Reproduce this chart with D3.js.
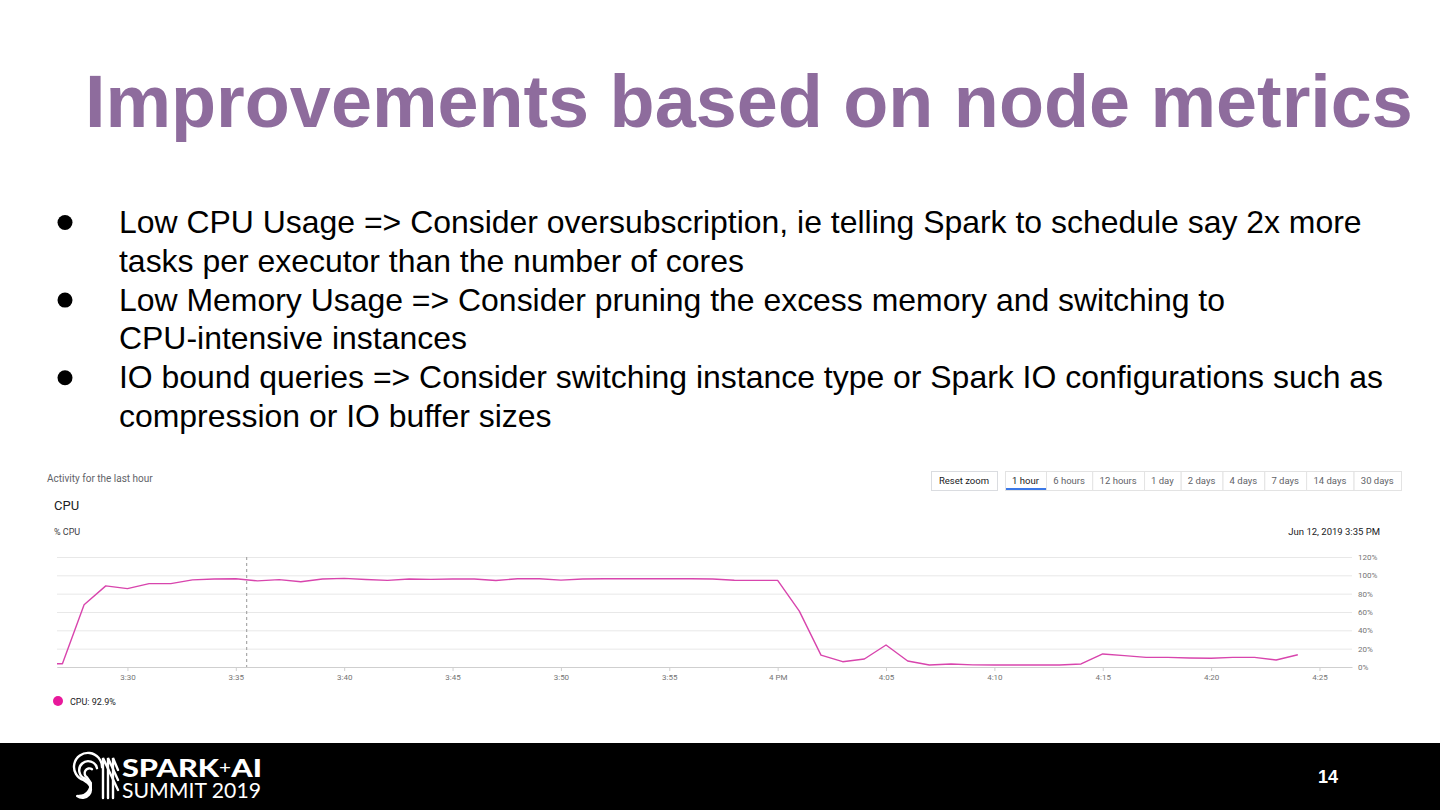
<!DOCTYPE html>
<html>
<head>
<meta charset="utf-8">
<script src="https://cdn.jsdelivr.net/npm/d3@7"></script>
<style>
  body { margin: 0; background: #fff; }
  svg { display: block; }
</style>
</head>
<body>
<div id="slide"></div>
<script>
// Slide text
var titleText = "Improvements based on node metrics";
var bullets = [
  ["Low CPU Usage => Consider oversubscription, ie telling Spark to schedule say 2x more",
   "tasks per executor than the number of cores"],
  ["Low Memory Usage => Consider pruning the excess memory and switching to",
   "CPU-intensive instances"],
  ["IO bound queries => Consider switching instance type or Spark IO configurations such as",
   "compression or IO buffer sizes"]
];

// CPU series, one sample per minute (Jun 12, 2019)
var times = [
  "15:26", "15:27", "15:28", "15:29", "15:30", "15:31", "15:32", "15:33", "15:34", "15:35",
  "15:36", "15:37", "15:38", "15:39", "15:40", "15:41", "15:42", "15:43", "15:44", "15:45",
  "15:46", "15:47", "15:48", "15:49", "15:50", "15:51", "15:52", "15:53", "15:54", "15:55",
  "15:56", "15:57", "15:58", "15:59", "16:00", "16:01", "16:02", "16:03", "16:04", "16:05",
  "16:06", "16:07", "16:08", "16:09", "16:10", "16:11", "16:12", "16:13", "16:14", "16:15",
  "16:16", "16:17", "16:18", "16:19", "16:20", "16:21", "16:22", "16:23", "16:24"
];
var cpu = [
  4, 3.5, 68, 88.5, 85.5, 91, 91, 95, 96, 96.3,
  94, 95.3, 93, 96, 96.7, 95.5, 94.5, 96, 95.6, 96,
  96, 94.3, 96.3, 96.3, 94.8, 96, 96.2, 96.2, 96.2, 96.2,
  96.2, 96, 94.6, 94.5, 94.5, 61, 13, 5.8, 8.7, 24,
  6.5, 2.2, 3.2, 2.3, 2.2, 2.2, 2.2, 2.2, 3.3, 14.2,
  12.4, 10.5, 10.5, 9.8, 9.5, 10.5, 10.5, 7.6, 13.4
];

// Axis ticks
var xDomain = ["15:26:45", "16:26:30"];
var xTickTimes = ["15:30", "15:35", "15:40", "15:45", "15:50", "15:55", "16:00", "16:05", "16:10", "16:15", "16:20", "16:25"];
var xTickLabels = ["3:30", "3:35", "3:40", "3:45", "3:50", "3:55", "4 PM", "4:05", "4:10", "4:15", "4:20", "4:25"];
var yTicks = [0, 20, 40, 60, 80, 100, 120];
var yTickLabels = ["0%", "20%", "40%", "60%", "80%", "100%", "120%"];

// Console chrome
var hoverTime = "15:35:30";
var hoverLabel = "Jun 12, 2019 3:35 PM";
var legendLabel = "CPU: 92.9%";
var rangeButtons = ["1 hour", "6 hours", "12 hours", "1 day", "2 days", "4 days", "7 days", "14 days", "30 days"];
var pageNumber = "14";

var width = 1440;
var height = 810;

var sans = "'Liberation Sans', Arial, sans-serif";
var ui = "Roboto, 'Noto Sans', sans-serif";

var svg = d3
  .select("#slide")
  .append("svg")
  .attr("width", width)
  .attr("height", height);

svg.append("rect").attr("width", width).attr("height", height).attr("fill", "#fff");

// ---------- Title ----------
var title = svg
  .append("text")
  .attr("x", 85)
  .attr("y", 127)
  .attr("font-family", sans)
  .attr("font-weight", "bold")
  .attr("font-size", 75)
  .attr("fill", "#8e6c9d")
  .text(titleText);

// fit the title to the width it has on the slide
var tLen = title.node().getComputedTextLength();
title.attr("font-size", 75 * 1328 / tLen);

// ---------- Bullets ----------
var bulletG = svg.append("g");
var probe = bulletG
  .append("text")
  .attr("font-family", sans)
  .attr("font-size", 30)
  .text(bullets[0][0]);
var bulletSize = 30 * 1243 / probe.node().getComputedTextLength();
probe.remove();

var lineNo = 0;
bullets.forEach(function(b) {
  var base = 233 + lineNo * 38.8;
  bulletG
    .append("circle")
    .attr("cx", 65)
    .attr("cy", base - 10.5)
    .attr("r", 7.5)
    .attr("fill", "#000");
  b.forEach(function(line) {
    bulletG
      .append("text")
      .attr("x", 119)
      .attr("y", 233 + lineNo * 38.8)
      .attr("font-family", sans)
      .attr("font-size", bulletSize)
      .attr("fill", "#000")
      .text(line);
    lineNo++;
  });
});

// ---------- Chart header ----------
svg.append("text")
  .attr("x", 47).attr("y", 482)
  .attr("font-family", ui).attr("font-size", 10)
  .attr("fill", "#5f6368")
  .text("Activity for the last hour");

svg.append("text")
  .attr("x", 54).attr("y", 510)
  .attr("font-family", ui).attr("font-size", 13)
  .attr("fill", "#202124")
  .text("CPU");

svg.append("text")
  .attr("x", 54).attr("y", 535)
  .attr("font-family", ui).attr("font-size", 9)
  .attr("fill", "#3c4043")
  .text("% CPU");

svg.append("text")
  .attr("x", 1380).attr("y", 535)
  .attr("text-anchor", "end")
  .attr("font-family", ui).attr("font-size", 9.5)
  .attr("fill", "#202124")
  .text(hoverLabel);

// Buttons
var btnY = 471;
var btnH = 20;
var resetG = svg.append("g");
resetG.append("rect")
  .attr("x", 931.5).attr("y", btnY + 0.5)
  .attr("width", 66).attr("height", btnH - 1)
  .attr("fill", "#fff").attr("stroke", "#dadce0");
resetG.append("text")
  .attr("x", 964).attr("y", btnY + 13)
  .attr("text-anchor", "middle")
  .attr("font-family", ui).attr("font-size", 9.5)
  .attr("fill", "#202124")
  .text("Reset zoom");

var btnG = svg.append("g");
var btnText = btnG.selectAll("text.btn")
  .data(rangeButtons)
  .enter()
  .append("text")
  .attr("class", "btn")
  .attr("font-family", ui).attr("font-size", 9.5)
  .attr("text-anchor", "middle")
  .text(function(d) { return d; });

var widths = [];
btnText.each(function() { widths.push(this.getComputedTextLength() + 12); });
var wScale = 396 / d3.sum(widths);
var bx = 1005;
btnText.each(function(d, i) {
  var w = widths[i] * wScale;
  btnG.insert("rect", "text")
    .attr("x", bx + 0.5).attr("y", btnY + 0.5)
    .attr("width", w).attr("height", btnH - 1)
    .attr("fill", "#fff").attr("stroke", "#e3e3e3");
  d3.select(this)
    .attr("x", bx + w / 2)
    .attr("y", btnY + 13)
    .attr("fill", i === 0 ? "#202124" : "#5f6368");
  if (i === 0) {
    btnG.append("rect")
      .attr("x", bx + 1).attr("y", btnY + btnH - 3)
      .attr("width", w - 1).attr("height", 2)
      .attr("fill", "#3b78e7");
  }
  bx += w;
});

// ---------- CPU chart ----------
var parseT = d3.timeParse("%Y-%m-%d %H:%M:%S");
function t(s) {
  return parseT("2019-06-12 " + (s.length === 5 ? s + ":00" : s));
}

var plotLeft = 57;
var plotRight = 1352;
var plotTop = 557;
var plotBottom = 667;

var xScale = d3.scaleTime()
  .domain(xDomain.map(t))
  .range([plotLeft, plotRight]);

var yScale = d3.scaleLinear()
  .domain([0, 120])
  .range([plotBottom, plotTop]);

// gridlines
var grid = svg.append("g")
  .attr("transform", "translate(" + plotLeft + ",0)")
  .call(d3.axisLeft(yScale).tickValues(yTicks).tickSize(-(plotRight - plotLeft)).tickFormat(""));
grid.select(".domain").remove();
grid.selectAll("line").attr("stroke", "#e8e8e8");

// x axis
var xAxis = d3.axisBottom(xScale)
  .tickValues(xTickTimes.map(t))
  .tickFormat(function(d, i) { return xTickLabels[i]; })
  .tickSize(4)
  .tickSizeOuter(0)
  .tickPadding(3);

var xg = svg.append("g")
  .attr("transform", "translate(0," + plotBottom + ")")
  .call(xAxis);
xg.select(".domain").attr("stroke", "#cfcfcf");
xg.selectAll("line").attr("stroke", "#cfcfcf");
xg.selectAll("text")
  .attr("font-family", ui).attr("font-size", 8)
  .attr("fill", "#757575");

// y axis labels on the right
var yAxis = d3.axisRight(yScale)
  .tickValues(yTicks)
  .tickFormat(function(d, i) { return yTickLabels[i]; })
  .tickSize(0)
  .tickPadding(6);

var yg = svg.append("g")
  .attr("transform", "translate(" + plotRight + ",0)")
  .call(yAxis);
yg.select(".domain").remove();
yg.selectAll("text")
  .attr("font-family", ui).attr("font-size", 8)
  .attr("fill", "#757575");

// hover marker
svg.append("line")
  .attr("x1", xScale(t(hoverTime))).attr("x2", xScale(t(hoverTime)))
  .attr("y1", plotTop).attr("y2", plotBottom)
  .attr("stroke", "#a8a8a8")
  .attr("stroke-width", 1.2)
  .attr("stroke-dasharray", "3,3");

svg.append("clipPath")
  .attr("id", "plotClip")
  .append("rect")
  .attr("x", plotLeft).attr("y", plotTop - 10)
  .attr("width", plotRight - plotLeft).attr("height", plotBottom - plotTop + 12);

var series = times.map(function(s, i) { return { time: t(s), value: cpu[i] }; });

var line = d3.line()
  .x(function(d) { return xScale(d.time); })
  .y(function(d) { return yScale(d.value); });

svg.append("path")
  .datum(series)
  .attr("clip-path", "url(#plotClip)")
  .attr("fill", "none")
  .attr("stroke", "#d845ad")
  .attr("stroke-width", 1.4)
  .attr("stroke-linejoin", "round")
  .attr("d", line);

// legend
svg.append("circle")
  .attr("cx", 58).attr("cy", 701).attr("r", 5)
  .attr("fill", "#e8199b");
svg.append("text")
  .attr("x", 70).attr("y", 704.5)
  .attr("font-family", ui).attr("font-size", 9)
  .attr("fill", "#202124")
  .text(legendLabel);

// ---------- Footer ----------
svg.append("rect")
  .attr("x", 0).attr("y", 743)
  .attr("width", width).attr("height", height - 743)
  .attr("fill", "#000");

var logo = svg.append("g")
  .attr("fill", "none")
  .attr("stroke", "#fff")
  .attr("stroke-width", 2.4)
  .attr("stroke-linecap", "round");

// stylised "S" made of nested arcs
[4, 9, 14].forEach(function(r) {
  logo.append("path")
    .attr("d", "M" + (88 + r) + "," + (770 - r * 0.2) +
      " A" + r + "," + r + " 0 1 0 " + (88 - r * 0.3) + "," + (776 + r * 0.3) +
      " L" + (92 - r * 0.3) + "," + 783 +
      " A" + ((14 - r) * 0.6 + 6) + "," + ((14 - r) * 0.6 + 6) + " 0 0 1 " + (80 - r * 0.2) + "," + 796);
});
// stylised "A"
[0, 5, 10].forEach(function(o) {
  logo.append("path")
    .attr("d", "M" + (103 + o) + ",798 L" + (103 + o) + ",758 L" + (118) + "," + (790 - o * 2));
});

var spark = svg.append("text")
  .attr("x", 122).attr("y", 777)
  .attr("font-family", "Lato, 'Open Sans', sans-serif")
  .attr("font-weight", "900")
  .attr("font-size", 25)
  .attr("fill", "#fff")
  .attr("textLength", 140)
  .attr("lengthAdjust", "spacingAndGlyphs");
spark.append("tspan").text("SPARK");
spark.append("tspan").attr("font-size", 17).attr("font-weight", "400").attr("dy", -3).text("+");
spark.append("tspan").attr("dy", 3).text("AI");

svg.append("text")
  .attr("x", 122).attr("y", 798)
  .attr("font-family", "Lato, 'Open Sans', sans-serif")
  .attr("font-size", 21)
  .attr("fill", "#fff")
  .attr("textLength", 139)
  .attr("lengthAdjust", "spacingAndGlyphs")
  .text("SUMMIT 2019");

svg.append("text")
  .attr("x", 1328).attr("y", 782.5)
  .attr("text-anchor", "middle")
  .attr("font-family", sans)
  .attr("font-weight", "bold")
  .attr("font-size", 18)
  .attr("fill", "#fff")
  .text(pageNumber);
</script>
</body>
</html>
